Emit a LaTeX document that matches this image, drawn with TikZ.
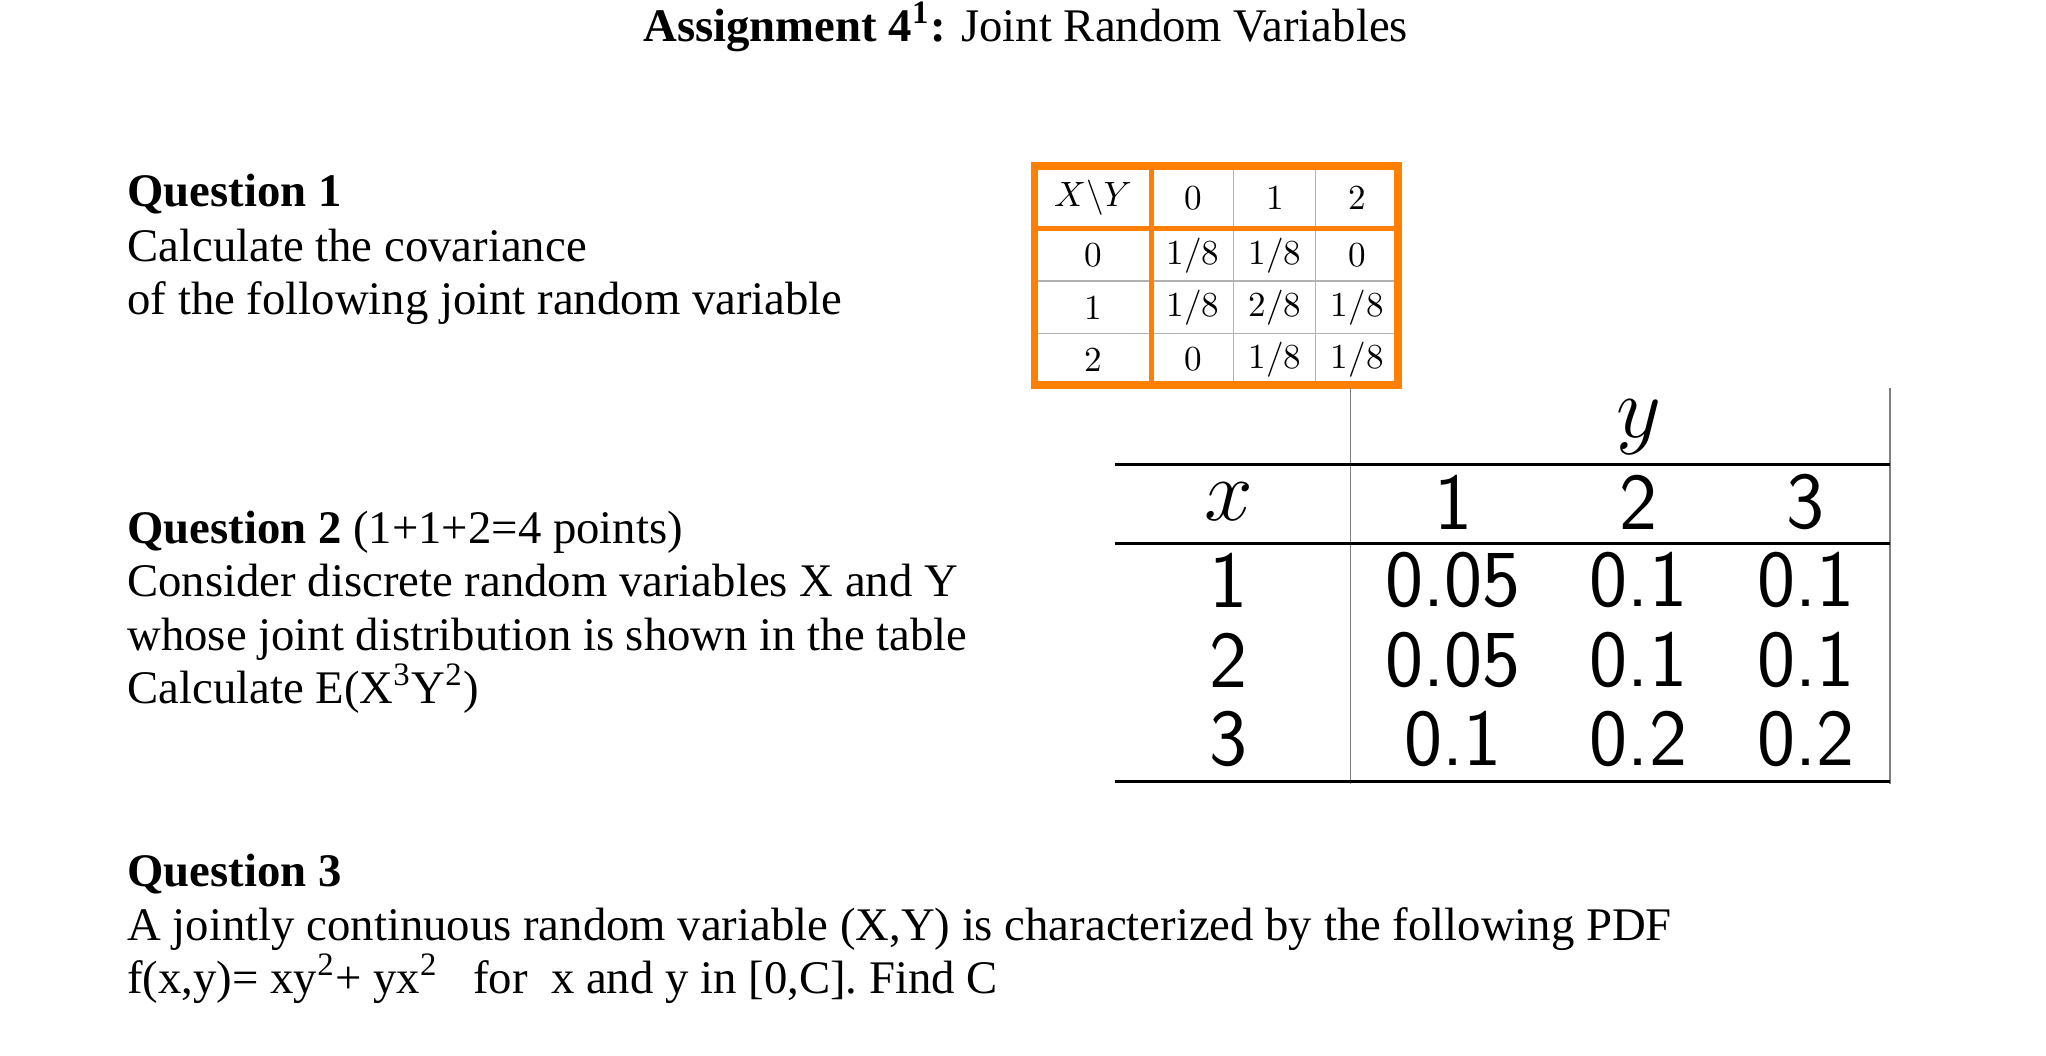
\documentclass[tikz,border=0pt]{standalone}
\usepackage{fontspec}
\setmainfont{Liberation Serif}
\newfontfamily\lmserif{Latin Modern Roman}
\newfontfamily\lmsans{Latin Modern Sans}
\definecolor{tblorange}{RGB}{255,128,0}
\tikzset{
  txt/.style={anchor=base west,inner sep=0pt,font=\fontsize{13.3}{16}\selectfont},
  small/.style={inner sep=0pt,font=\lmserif\fontsize{10}{11}\selectfont},
  big/.style={inner sep=0pt,font=\lmsans\fontsize{23}{26}\selectfont}
}
\begin{document}
\begin{tikzpicture}[x=0.0099cm,y=-0.0099cm]
    \useasboundingbox (0,0) rectangle (2066.7,1065.7);
    % title
    \node [txt,anchor=base] (title) at (1036,42) {\textbf{Assignment 4\textsuperscript{1}:} Joint Random Variables};
    % question 1
    \node [txt] (q1a) at (128,209) {\textbf{Question 1}};
    \node [txt] (q1b) at (128,264) {Calculate the covariance};
    \node [txt] (q1c) at (128,318) {of the following joint random variable};
    % question 2
    \node [txt] (q2a) at (128,549) {\textbf{Question 2} (1+1+2=4 points)};
    \node [txt] (q2b) at (128,603) {Consider discrete random variables X and Y};
    \node [txt] (q2c) at (128,657) {whose joint distribution is shown in the table};
    \node [txt] (q2d) at (128,711) {Calculate E(X\textsuperscript{3}Y\textsuperscript{2})};
    % question 3
    \node [txt] (q3a) at (128,895) {\textbf{Question 3}};
    \node [txt] (q3b) at (128,950) {A jointly continuous random variable (X,Y) is characterized by the following PDF};
    \node [txt] (q3c) at (128,1004) {f(x,y)= xy\textsuperscript{2}+ yx\textsuperscript{2}\ \ \ for\ \ x and y in [0,C]. Find C};
    % small table
    \draw [gray!60] (1246,168) -- (1246,389);
    \draw [gray!60] (1329,168) -- (1329,389);
    \draw [gray!60] (1045,284) -- (1412,284);
    \draw [gray!60] (1045,337) -- (1412,337);
    \draw [tblorange,line width=2.2pt] (1045,168) rectangle (1412,389);
    \draw [tblorange,line width=1.6pt] (1045,231) -- (1412,231);
    \draw [tblorange,line width=1.6pt] (1163,168) -- (1163,389);
    \foreach \r/\yy/\a/\b/\c/\d in {h/200/$X\backslash Y$/0/1/2, a/258/0/1\slash 8/1\slash 8/0, b/311/1/1\slash 8/2\slash 8/1\slash 8, c/363/2/0/1\slash 8/1\slash 8} {
      \node [small] (s\r1) at (1104,\yy) {\a};
      \node [small] (s\r2) at (1205,\yy) {\b};
      \node [small] (s\r3) at (1288,\yy) {\c};
      \node [small] (s\r4) at (1371,\yy) {\d};
    }
    % big table
    \draw [gray] (1364,392) -- (1364,792);
    \draw [gray] (1909,392) -- (1909,792);
    \draw [black,line width=0.9pt] (1126,469) -- (1909,469);
    \draw [black,line width=0.9pt] (1126,549) -- (1909,549);
    \draw [black,line width=0.9pt] (1126,789) -- (1909,789);
    \node [big] (yhead) at (1655,432) {$y$};
    \node [big] (xhead) at (1241,507) {$x$};
    \foreach \c/\xx in {1/1468,2/1655,3/1824}
      \node [big] (ch\c) at (\xx,507) {\c};
    \foreach \r/\yy/\a/\b/\c in {1/586/0.05/0.1/0.1, 2/667/0.05/0.1/0.1, 3/746/0.1/0.2/0.2} {
      \node [big] (rh\r) at (1241,\yy) {\r};
      \node [big] (v\r1) at (1468,\yy) {\a};
      \node [big] (v\r2) at (1655,\yy) {\b};
      \node [big] (v\r3) at (1824,\yy) {\c};
    }
\end{tikzpicture}
\end{document}
